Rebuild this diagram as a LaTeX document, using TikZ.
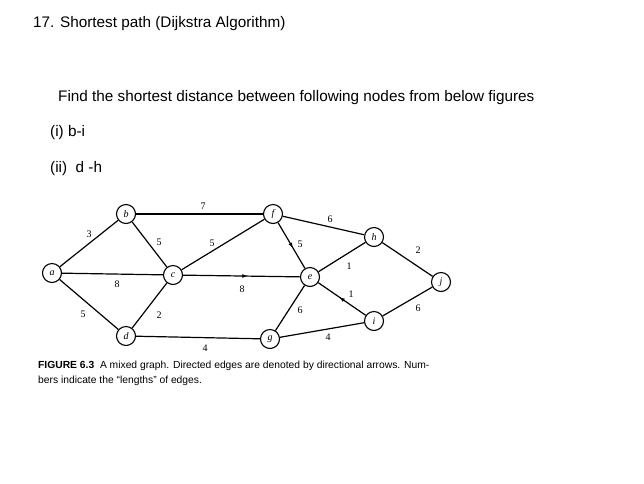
\documentclass[tikz,border=0pt]{standalone}
\usepackage{fontspec}
\setsansfont{Liberation Sans}
\setmainfont{Liberation Serif}
\usetikzlibrary{decorations.markings,arrows.meta}
\begin{document}
\begin{tikzpicture}[x=1pt,y=-1pt,
  vtx/.style={circle,draw,line width=1.1pt,minimum size=19pt,inner sep=0pt,font=\fontsize{10}{10}\selectfont\itshape},
  edge/.style={line width=1.2pt},
  dir/.style={line width=1.2pt,decoration={markings,mark=at position 0.55 with {\arrow{Latex[length=5pt,width=4pt]}}},postaction={decorate}},
  wt/.style={font=\fontsize{10}{10}\selectfont},
  txt/.style={anchor=base west,font=\sffamily\fontsize{15.3}{15.3}\selectfont,inner sep=0pt}]
\useasboundingbox (0,0) rectangle (644,483);
\node[txt] (t1) at (33,27) {17. Shortest path (Dijkstra Algorithm)};
\node[txt] (t2) at (58,101) {Find the shortest distance between following nodes from below figures};
\node[txt] (t3) at (50,136) {(i) b-i};
\node[txt] (t4) at (50,172) {(ii)\ \ d -h};
\node[vtx] (a) at (52,273) {a};
\node[vtx] (b) at (126,214) {b};
\node[vtx] (c) at (173,275) {c};
\node[vtx] (d) at (126,336) {d};
\node[vtx] (f) at (273,214) {f};
\node[vtx] (e) at (310,277) {e};
\node[vtx] (h) at (374,237) {h};
\node[vtx] (j) at (441,282) {j};
\node[vtx] (i) at (374,321) {i};
\node[vtx] (g) at (270,339) {g};
\draw[edge] (a)--(b); \draw[edge] (a)--(c); \draw[edge] (a)--(d);
\draw[edge] (b)--(c); \draw[edge] (b)--(f); \draw[edge] (c)--(f);
\draw[edge] (d)--(c); \draw[edge] (d)--(g);
\draw[edge] (f)--(h); \draw[edge] (e)--(h); \draw[edge] (h)--(j);
\draw[edge] (e)--(g); \draw[edge] (g)--(i); \draw[edge] (i)--(j);
\draw[dir] (f)--(e); \draw[dir] (c)--(e); \draw[dir] (i)--(e);
\node[wt] (w1) at (89,234) {3};
\node[wt] (w2) at (83,314) {5};
\node[wt] (w3) at (117,284) {8};
\node[wt] (w4) at (159,242) {5};
\node[wt] (w5) at (159,315) {2};
\node[wt] (w6) at (203,206) {7};
\node[wt] (w7) at (212,243) {5};
\node[wt] (w8) at (242,289) {8};
\node[wt] (w9) at (205,348) {4};
\node[wt] (w10) at (300,244) {5};
\node[wt] (w11) at (330,219) {6};
\node[wt] (w12) at (349,266) {1};
\node[wt] (w13) at (351,294) {1};
\node[wt] (w14) at (300,310) {6};
\node[wt] (w15) at (328,337) {4};
\node[wt] (w16) at (418,250) {2};
\node[wt] (w17) at (418,308) {6};
\node[anchor=base west,font=\sffamily\fontsize{10.3}{10.3}\selectfont,inner sep=0pt] (cap1) at (38,368) {\textbf{FIGURE 6.3}\ \ A mixed graph. Directed edges are denoted by directional arrows. Num-};
\node[anchor=base west,font=\sffamily\fontsize{10.3}{10.3}\selectfont,inner sep=0pt] (cap2) at (38,383) {bers indicate the ``lengths'' of edges.};
\end{tikzpicture}
\end{document}
